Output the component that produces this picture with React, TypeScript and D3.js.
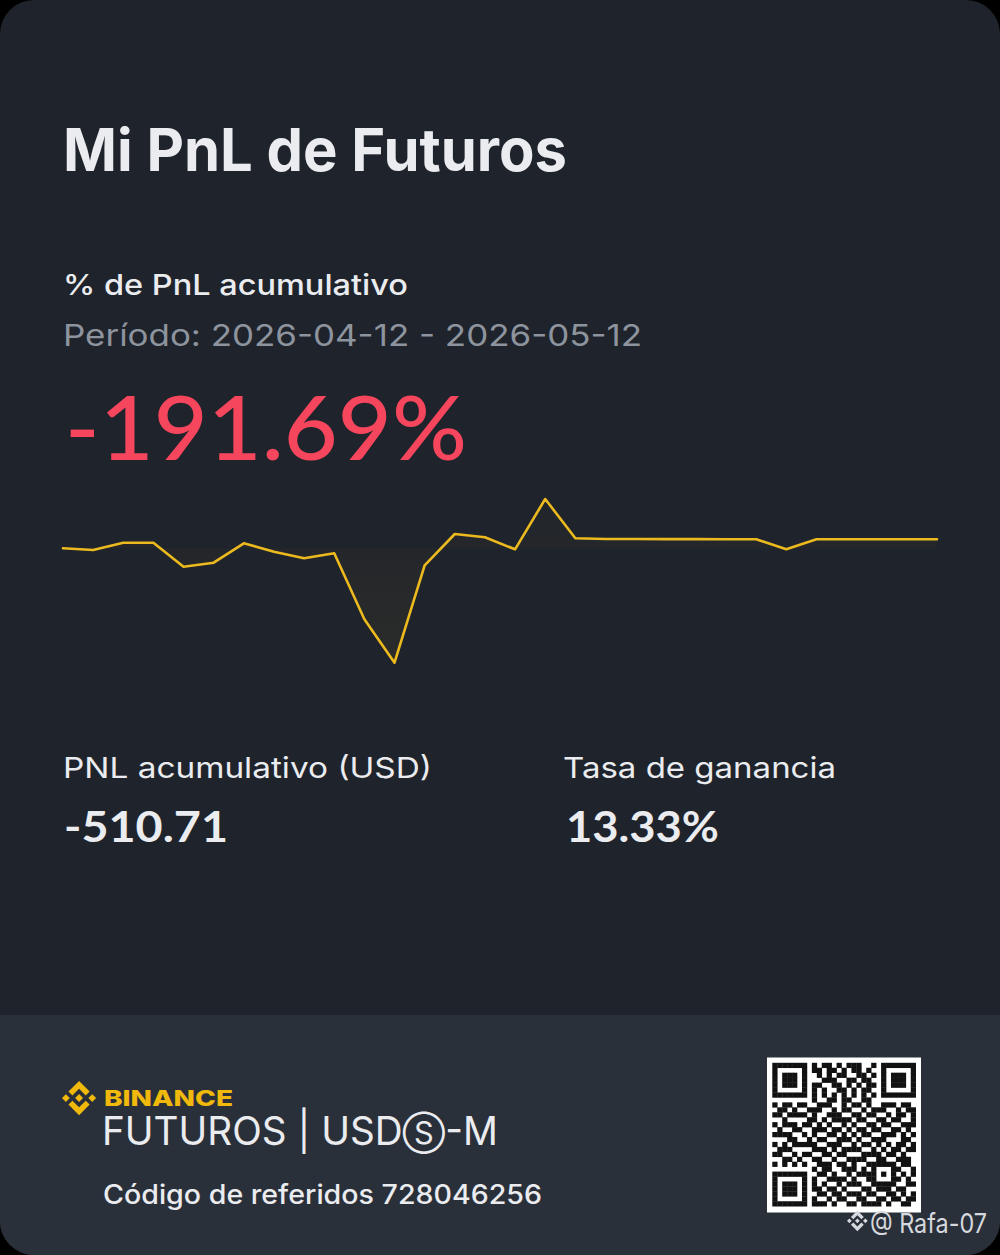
import React from "react";
import * as d3 from "d3";

// ---- data ----
const days: string[] = d3.timeDay
  .range(new Date(2026, 3, 13), new Date(2026, 4, 13))
  .map(d3.timeFormat("%Y-%m-%d"));

const pnlPct: number[] = [
  -227.7, -234.5, -205.3, -205.3, -301.3, -285.3, -207.7, -241.3, -267.7, -247.7,
  -511.7, -685.3, -295.7, -170.5, -183.7, -231.7, -30.5, -187.7, -190.2, -190.5,
  -190.8, -191.0, -191.2, -191.4, -231.7, -191.69, -191.69, -191.69, -191.69, -191.69,
];

const titleText = "Mi PnL de Futuros";
const metricLabel = "% de PnL acumulativo";
const periodLabel = "Período: 2026-04-12 - 2026-05-12";
const cumulativePct = "-191.69%";
const statLabels = ["PNL acumulativo (USD)", "Tasa de ganancia"];
const statValues = ["-510.71", "13.33%"];
const brandName = "BINANCE";
const productParts = ["FUTUROS | USD", "Ⓢ", "-M"];
const referralText = "Código de referidos 728046256";
const watermark = "@ Rafa-07";

// decorative QR module grid (29x29), finder/timing/alignment overlaid in code
const qrData: string[] = [
  "10110011101101011100101101101",
  "01101000110110101101011011010",
  "11010110010101100110101100111",
  "00111101001110011011010011001",
  "10100010110011010101101100110",
  "01110101101001101011001011011",
  "11001101011100101100110101100",
  "00110011100110110011001010011",
  "10110110011100101101001110110",
  "01101001110010110010111001011",
  "11011110100111001101100101101",
  "00100001101011110110011011001",
  "10111011010100101001101100111",
  "01001100111011010110110011010",
  "11110010100110101011001110101",
  "00011011011001110100111000110",
  "10101101100111001011010101101",
  "01110000111010111100101011011",
  "11001011001101100011110110100",
  "00110110110010011110011001110",
  "10101010011101101001111110110",
  "01011100101100111010010011001",
  "10010111011010010111101100101",
  "11101001100111101001010111010",
  "00110110101001011100110010011",
  "10101011110110100011011101100",
  "01110100011011011101100110101",
  "11011011100101100110011011011",
  "10100110111010011011110100110",
];

const BINANCE_PATH =
  "M38.171 53.203L62.759 28.616l24.6 24.6 14.306-14.307L62.759 0 23.864 38.896l14.307 14.307zM0 62.759l14.307-14.307 14.306 14.307-14.306 14.306L0 62.759zm38.171 9.557L62.759 96.903l24.6-24.6 14.307 14.3-.007.007-38.9 38.9-38.895-38.895-.02-.02 14.327-14.279zM96.903 62.759l14.307-14.307 14.306 14.307-14.306 14.306-14.307-14.306zm-19.632-.01h.006L62.759 48.234 52.036 58.957l-1.232 1.232-2.541 2.541-.02.02.02.02 14.496 14.496 14.518-14.517.007-.008-.013-.007z";

function buildQr(): number[][] {
  const n = qrData.length;
  const m = qrData.map((r) => r.split("").map((c) => (c === "1" ? 1 : 0)));
  const finder = (r0: number, c0: number) => {
    for (let r = -1; r <= 7; r++)
      for (let c = -1; c <= 7; c++) {
        const rr = r0 + r, cc = c0 + c;
        if (rr < 0 || cc < 0 || rr >= n || cc >= n) continue;
        let v = 0;
        if (r >= 0 && r <= 6 && c >= 0 && c <= 6) {
          const edge = r === 0 || r === 6 || c === 0 || c === 6;
          const core = r >= 2 && r <= 4 && c >= 2 && c <= 4;
          v = edge || core ? 1 : 0;
        }
        m[rr][cc] = v;
      }
  };
  finder(0, 0);
  finder(0, n - 7);
  finder(n - 7, 0);
  for (let i = 8; i < n - 8; i++) {
    m[6][i] = i % 2 === 0 ? 1 : 0;
    m[i][6] = i % 2 === 0 ? 1 : 0;
  }
  const a = n - 7;
  for (let r = -2; r <= 2; r++)
    for (let c = -2; c <= 2; c++) {
      const ring = Math.max(Math.abs(r), Math.abs(c));
      m[a + r][a + c] = ring === 1 ? 0 : 1;
    }
  return m;
}

const FONT = "Inter, 'Noto Sans', sans-serif";
const NUM_FONT = "Lato, Inter, sans-serif";

type TProps = {
  x: number;
  y: number;
  w: number;
  size: number;
  weight?: number;
  fill: string;
  family?: string;
  children: React.ReactNode;
};
function T({ x, y, w, size, weight = 400, fill, family, children }: TProps) {
  return (
    <text
      x={x}
      y={y}
      fontSize={size}
      fontWeight={weight}
      fill={fill}
      fontFamily={family}
      textLength={w}
      lengthAdjust="spacingAndGlyphs"
    >
      {children}
    </text>
  );
}

export default function App() {
  const W = 1000;
  const H = 1255;

  const x = d3.scalePoint<string>().domain(days).range([63, 937]);
  const ext = d3.extent(pnlPct) as [number, number];
  const y = d3.scaleLinear().domain(ext).range([662.7, 499]);

  const line = d3
    .line<number>()
    .x((_, i) => x(days[i]) as number)
    .y((d) => y(d));
  const area = d3
    .area<number>()
    .x((_, i) => x(days[i]) as number)
    .y0(y(pnlPct[0]))
    .y1((d) => y(d));

  const qr = buildQr();
  const qrX = 772.3;
  const qrY = 1062.8;
  const mod = 143.4 / qr.length;

  return (
    <svg
      width={W}
      height={H}
      viewBox={`0 0 ${W} ${H}`}
      style={{ position: "fixed", left: 0, top: 0, display: "block" }}
      fontFamily={FONT}
    >
      <defs>
        <clipPath id="card">
          <rect x={0} y={0} width={W} height={H} rx={34} ry={34} />
        </clipPath>
        <linearGradient id="areaGrad" x1="0" y1="0" x2="0" y2="1">
          <stop offset="0%" stopColor="#f0b90b" stopOpacity={0.01} />
          <stop offset="100%" stopColor="#f0b90b" stopOpacity={0.055} />
        </linearGradient>
      </defs>
      <rect x={0} y={0} width={W} height={H} fill="#000" />
      <g clipPath="url(#card)">
        <rect x={0} y={0} width={W} height={H} fill="#1f232b" />
        <rect x={0} y={1015} width={W} height={H - 1015} fill="#2a303a" />
      </g>

      <T x={63} y={171} w={504} size={59} weight={700} fill="#eaecef">{titleText}</T>
      <T x={63} y={295} w={345} size={29} weight={500} fill="#eaecef">{metricLabel}</T>
      <T x={63} y={346} w={579} size={30} fill="#8d949e">{periodLabel}</T>
      <T x={65} y={460} w={402} size={88} weight={500} fill="#f6465d" family={NUM_FONT}>
        {cumulativePct}
      </T>

      <path d={area(pnlPct) || ""} fill="url(#areaGrad)" />
      <path
        d={line(pnlPct) || ""}
        fill="none"
        stroke="#ecba1e"
        strokeWidth={2.6}
        strokeLinejoin="round"
        strokeLinecap="round"
      />

      <T x={63} y={778} w={369} size={29} fill="#eaecef">{statLabels[0]}</T>
      <T x={563} y={778} w={273} size={29} fill="#eaecef">{statLabels[1]}</T>
      <T x={64} y={842} w={164} size={42} weight={700} fill="#eaecef" family={NUM_FONT}>
        {statValues[0]}
      </T>
      <T x={566} y={842} w={153} size={42} weight={700} fill="#eaecef" family={NUM_FONT}>
        {statValues[1]}
      </T>

      <g transform="translate(62,1081) scale(0.272)">
        <path d={BINANCE_PATH} fill="#f0b90b" />
      </g>
      <T x={104} y={1106} w={129} size={22} weight={800} fill="#f0b90b">{brandName}</T>
      <T x={102} y={1145} w={396} size={39} weight={400} fill="#eaecef">
        {productParts[0]}
        <tspan fontSize={31} dy={-1}>{productParts[1]}</tspan>
        <tspan dy={1}>{productParts[2]}</tspan>
      </T>
      <T x={103} y={1204} w={439} size={27} weight={500} fill="#eaecef">{referralText}</T>

      <rect x={767} y={1057.5} width={154} height={155} fill="#ffffff" />
      {qr.map((row, r) =>
        row.map((v, c) =>
          v ? (
            <rect
              key={`${r}-${c}`}
              x={qrX + c * mod}
              y={qrY + r * mod}
              width={mod + 0.3}
              height={mod + 0.3}
              fill="#111"
            />
          ) : null
        )
      )}

      <g transform="translate(847,1210.5) scale(0.165)">
        <path d={BINANCE_PATH} fill="#d5d8dd" />
      </g>
      <T x={870} y={1233} w={117} size={27} fill="#d5d8dd">{watermark}</T>
    </svg>
  );
}
